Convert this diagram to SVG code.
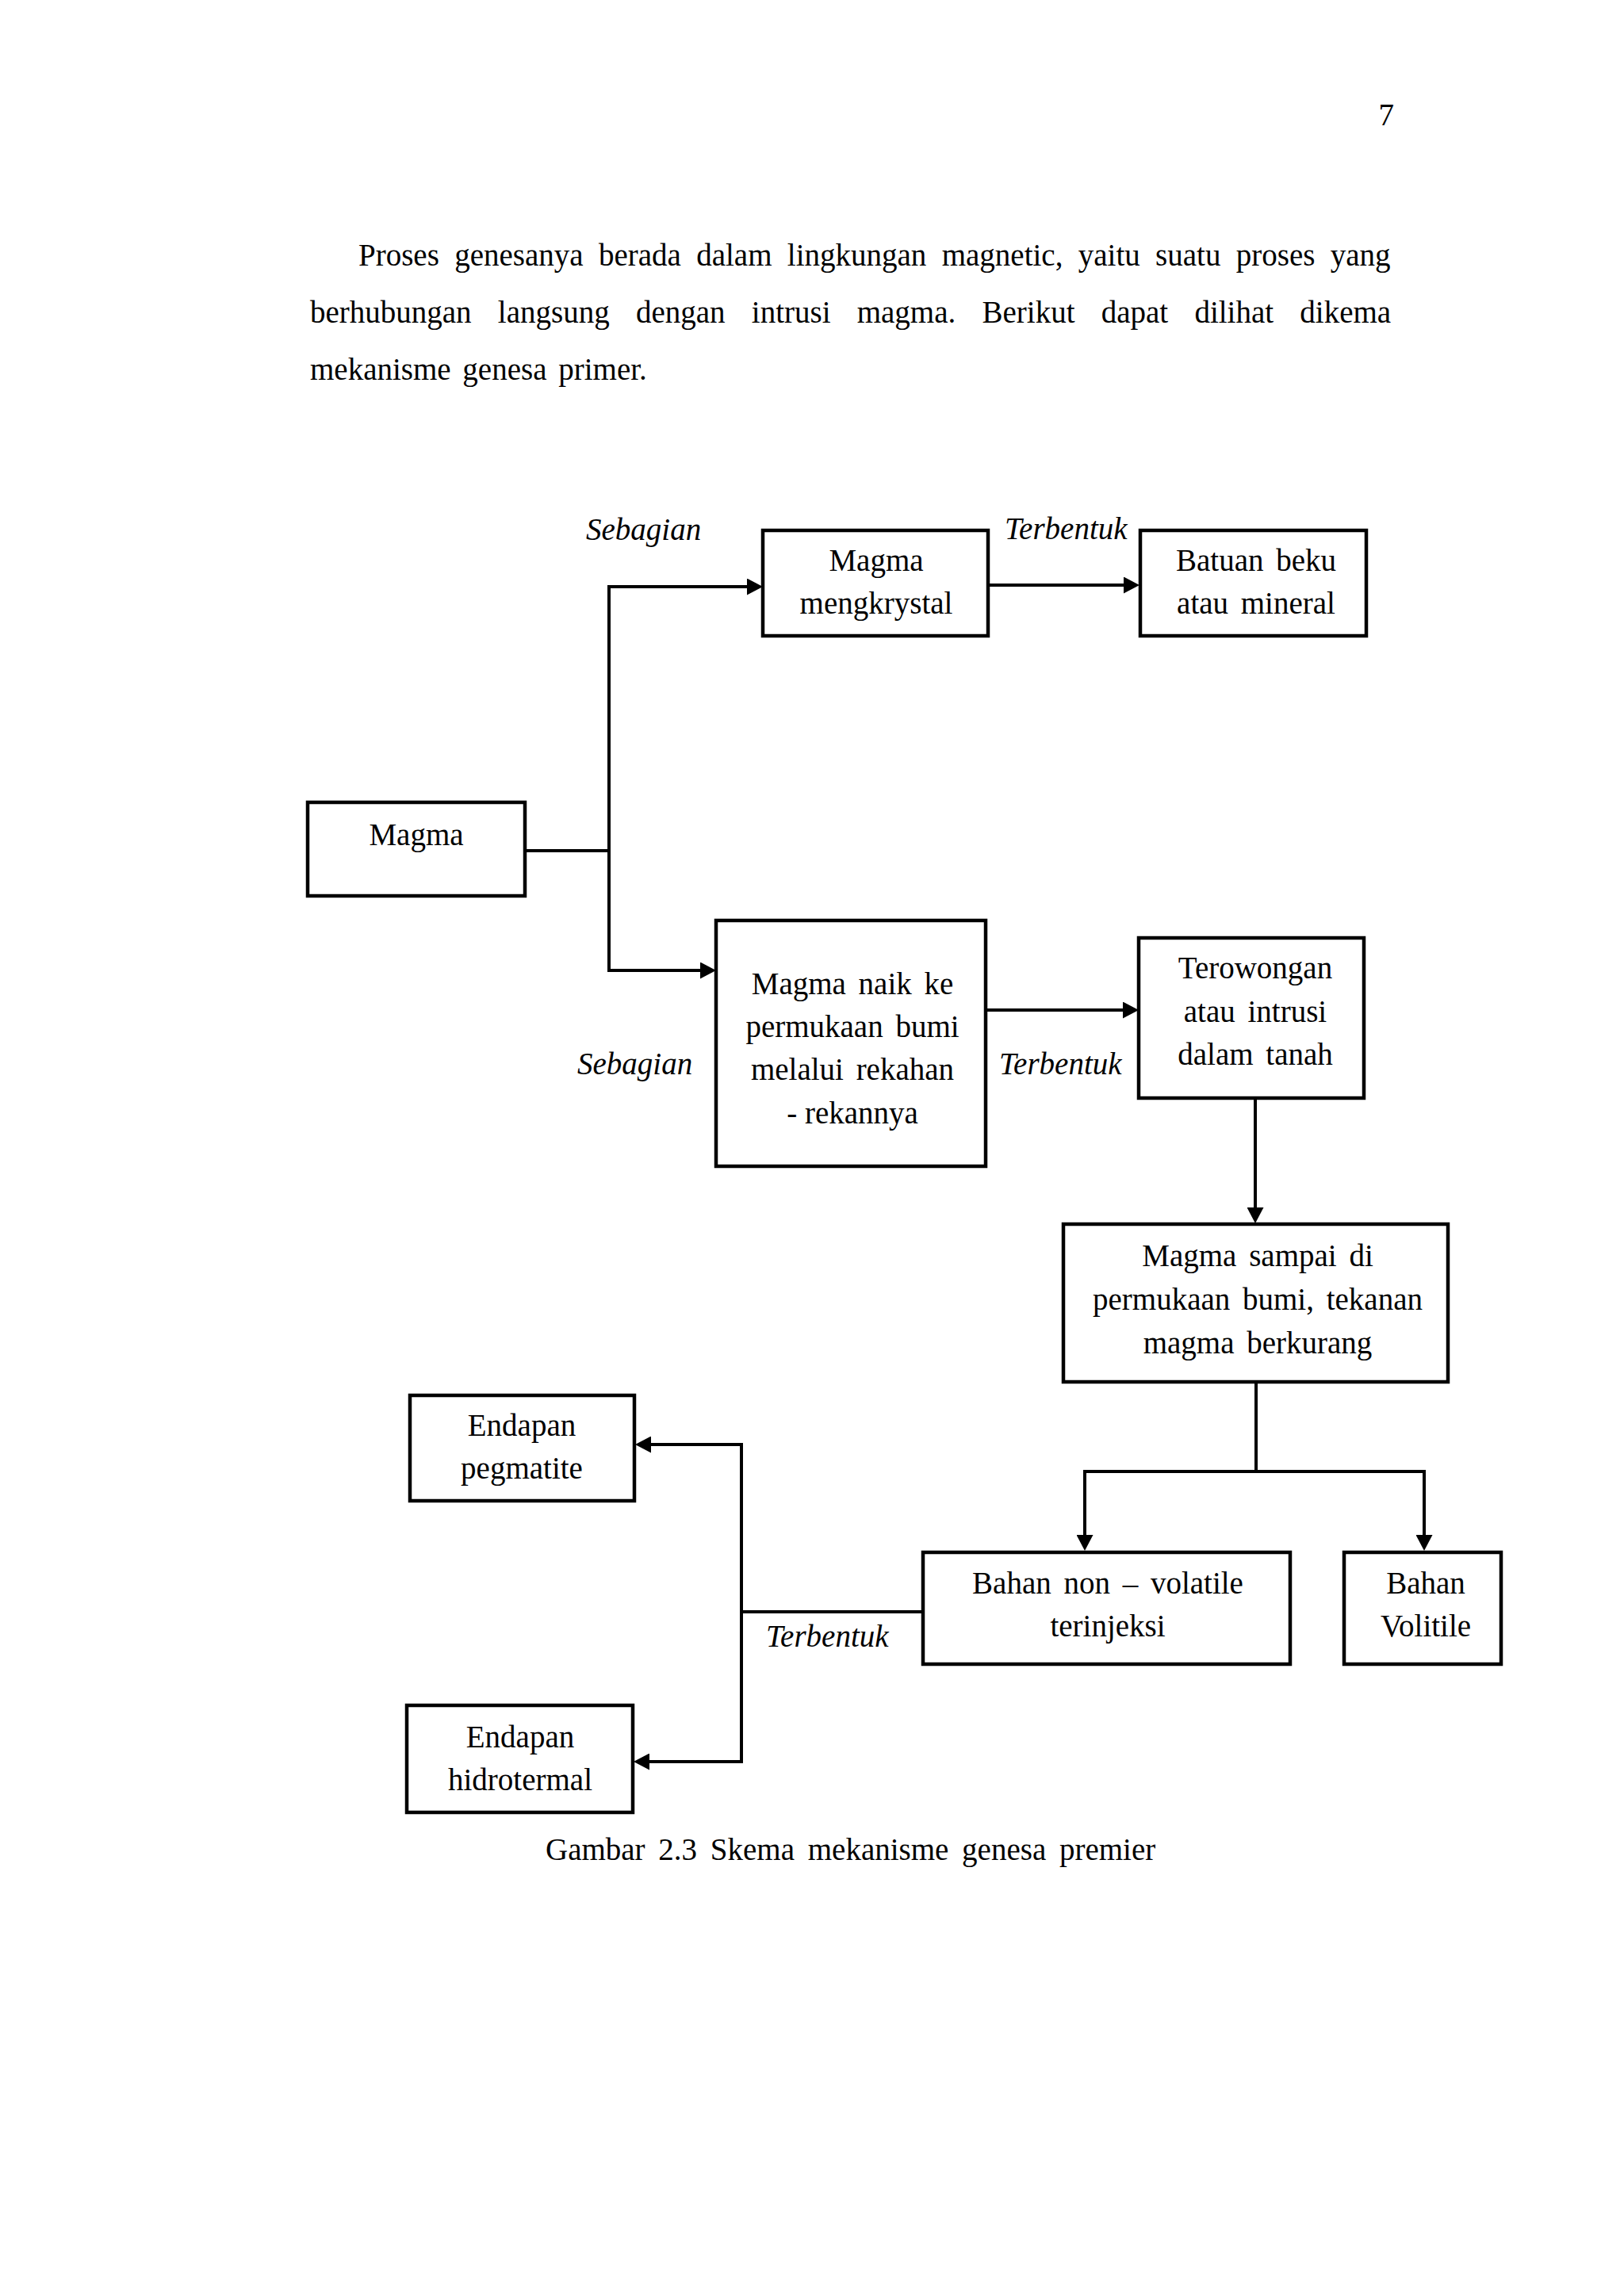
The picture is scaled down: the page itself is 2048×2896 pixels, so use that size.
<svg xmlns="http://www.w3.org/2000/svg" width="2048" height="2896" viewBox="0 0 2048 2896">
<style>
  text { font-family: "Liberation Serif", "Times New Roman", serif; font-size: 39px; fill: #000; }
  .c { text-anchor: middle; }
  .i { font-style: italic; }
  .ws { word-spacing: 6px; }
  .box { fill: #fff; stroke: #000; stroke-width: 4.5; }
  .ln { fill: none; stroke: #000; stroke-width: 4; }
</style>
<defs>
  <marker id="ah" markerUnits="userSpaceOnUse" viewBox="0 0 20 21" markerWidth="20" markerHeight="21" refX="16" refY="10.5" orient="auto">
    <path d="M0,0 L20,10.5 L0,21 Z" fill="#000"/>
  </marker>
</defs>
<rect width="2048" height="2896" fill="#fff"/>

<g id="page-text">
  <text x="1758" y="158" style="text-anchor:end">7</text>
  <text x="452" y="335" style="word-spacing:9.6px">Proses genesanya berada dalam lingkungan magnetic, yaitu suatu proses yang</text>
  <text x="391" y="407" style="word-spacing:23.5px">berhubungan langsung dengan intrusi magma. Berikut dapat dilihat dikema</text>
  <text x="391" y="479" style="word-spacing:5px">mekanisme genesa primer.</text>
  <text x="688" y="2346" style="word-spacing:7px">Gambar 2.3 Skema mekanisme genesa premier</text>
</g>

<g id="connectors">
  <polyline class="ln" points="662,1073 768,1073"/>
  <polyline class="ln" points="768,1224 768,740 958,740" marker-end="url(#ah)"/>
  <polyline class="ln" points="768,1073 768,1224 899,1224" marker-end="url(#ah)"/>
  <polyline class="ln" points="1246,738 1433,738" marker-end="url(#ah)"/>
  <polyline class="ln" points="1243,1274 1432,1274" marker-end="url(#ah)"/>
  <polyline class="ln" points="1583,1385 1583,1539" marker-end="url(#ah)"/>
  <polyline class="ln" points="1584,1743 1584,1856"/>
  <polyline class="ln" points="1366,1856 1798,1856"/>
  <polyline class="ln" points="1368,1856 1368,1952" marker-end="url(#ah)"/>
  <polyline class="ln" points="1796,1856 1796,1952" marker-end="url(#ah)"/>
  <polyline class="ln" points="1164,2033 935,2033"/>
  <polyline class="ln" points="935,1822 805,1822" marker-end="url(#ah)"/>
  <polyline class="ln" points="935,1820 935,2224"/>
  <polyline class="ln" points="935,2222 803,2222" marker-end="url(#ah)"/>
  <text class="i" x="739" y="681">Sebagian</text>
  <text class="i" x="1267" y="680">Terbentuk</text>
  <text class="i" x="728" y="1355">Sebagian</text>
  <text class="i" x="1260" y="1355">Terbentuk</text>
  <text class="i" x="966" y="2077">Terbentuk</text>
</g>

<g id="n-magma">
  <rect class="box" x="388" y="1012" width="274" height="118"/>
  <text class="c" x="525" y="1066">Magma</text>
</g>
<g id="n-mengkrystal">
  <rect class="box" x="962" y="669" width="284" height="133"/>
  <text class="c" x="1105" y="720">Magma</text>
  <text class="c" x="1105" y="774">mengkrystal</text>
</g>
<g id="n-batuan">
  <rect class="box" x="1438" y="669" width="285" height="133"/>
  <text class="c ws" x="1584" y="720">Batuan beku</text>
  <text class="c ws" x="1584" y="774">atau mineral</text>
</g>
<g id="n-naik">
  <rect class="box" x="903" y="1161" width="340" height="310"/>
  <text class="c ws" x="1075" y="1254">Magma naik ke</text>
  <text class="c ws" x="1075" y="1308">permukaan bumi</text>
  <text class="c ws" x="1075" y="1362">melalui rekahan</text>
  <text class="c" x="1075" y="1417">- rekannya</text>
</g>
<g id="n-terowongan">
  <rect class="box" x="1436" y="1183" width="284" height="202"/>
  <text class="c" x="1583" y="1234">Terowongan</text>
  <text class="c ws" x="1583" y="1289">atau intrusi</text>
  <text class="c ws" x="1583" y="1343">dalam tanah</text>
</g>
<g id="n-sampai">
  <rect class="box" x="1341" y="1544" width="485" height="199"/>
  <text class="c ws" x="1586" y="1597">Magma sampai di</text>
  <text class="c ws" x="1586" y="1652">permukaan bumi, tekanan</text>
  <text class="c ws" x="1586" y="1707">magma berkurang</text>
</g>
<g id="n-nonvolatile">
  <rect class="box" x="1164" y="1958" width="463" height="141"/>
  <text class="c ws" x="1397" y="2010">Bahan non – volatile</text>
  <text class="c" x="1397" y="2064">terinjeksi</text>
</g>
<g id="n-volitile">
  <rect class="box" x="1695" y="1958" width="198" height="141"/>
  <text class="c" x="1798" y="2010">Bahan</text>
  <text class="c" x="1798" y="2064">Volitile</text>
</g>
<g id="n-pegmatite">
  <rect class="box" x="517" y="1760" width="283" height="133"/>
  <text class="c" x="658" y="1811">Endapan</text>
  <text class="c" x="658" y="1865">pegmatite</text>
</g>
<g id="n-hidrotermal">
  <rect class="box" x="513" y="2151" width="285" height="135"/>
  <text class="c" x="656" y="2204">Endapan</text>
  <text class="c" x="656" y="2258">hidrotermal</text>
</g>
</svg>
